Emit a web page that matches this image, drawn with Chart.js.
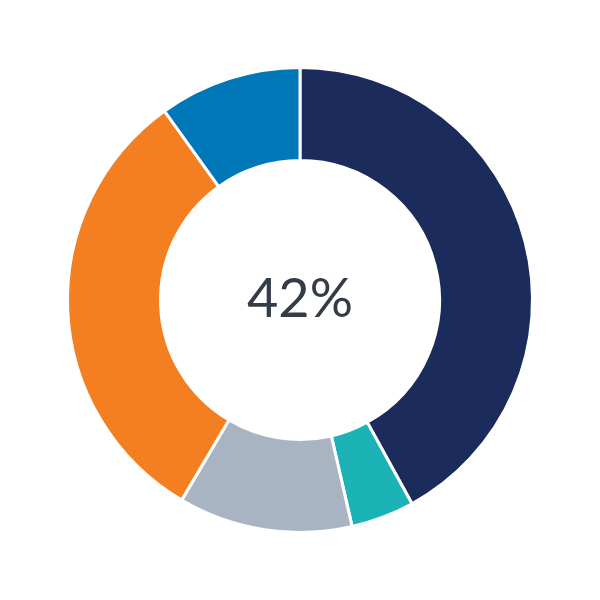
<!DOCTYPE html>
<html>
<head>
<meta charset="utf-8">
<script src="https://cdn.jsdelivr.net/npm/chart.js@4/dist/chart.umd.min.js"></script>
<style>
html,body{margin:0;padding:0;background:#fff;}
#wrap{width:600px;height:600px;position:relative;}
</style>
</head>
<body>
<div id="wrap"><canvas id="c" width="600" height="600"></canvas></div>
<script>
const categories = ["A", "B", "C", "D", "E"];
const values = [42, 4.4, 12.1, 31.6, 9.9];
const colors = ["#1b2b5c", "#1bb3b6", "#a9b4c3", "#f47f20", "#0077b6"];
const centerLabel = "42%";

const centerText = {
  id: 'centerText',
  afterDraw(chart) {
    const ctx = chart.ctx;
    const meta = chart.getDatasetMeta(0).data[0];
    ctx.save();
    ctx.font = '400 54px Lato, "Open Sans", sans-serif';
    ctx.fillStyle = '#333c47';
    ctx.textAlign = 'center';
    ctx.textBaseline = 'middle';
    ctx.fillText(centerLabel, meta.x, meta.y);
    ctx.restore();
  }
};

new Chart(document.getElementById('c'), {
  type: 'doughnut',
  data: {
    labels: categories,
    datasets: [{
      data: values,
      backgroundColor: colors,
      borderColor: '#ffffff',
      borderWidth: 3
    }]
  },
  options: {
    responsive: false,
    animation: false,
    cutout: '60%',
    layout: { padding: 66 },
    plugins: { legend: { display: false }, tooltip: { enabled: false } }
  },
  plugins: [centerText]
});
</script>
</body>
</html>
